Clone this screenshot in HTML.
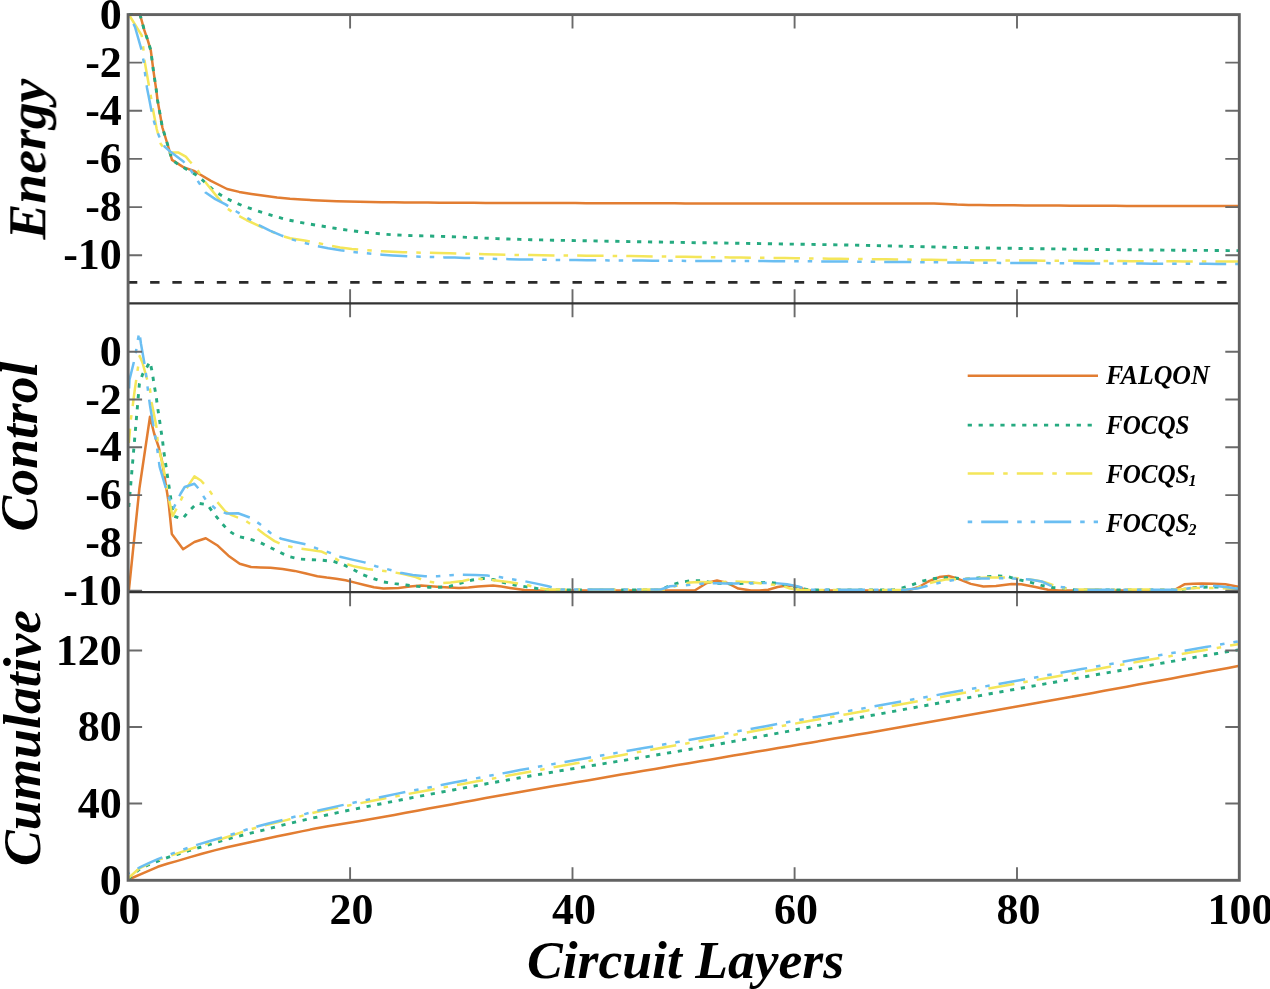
<!DOCTYPE html>
<html lang="en">
<head>
<meta charset="utf-8">
<title>Energy, Control and Cumulative vs Circuit Layers</title>
<style>
html,body{margin:0;padding:0;background:#fff;}
body{width:1270px;height:989px;overflow:hidden;}
svg{display:block;}
</style>
</head>
<body>
<svg width="1270" height="989" viewBox="0 0 1270 989">
<defs><filter id="soft" x="0" y="0" width="100%" height="100%" filterUnits="userSpaceOnUse" primitiveUnits="userSpaceOnUse"><feGaussianBlur stdDeviation="0.45"/></filter></defs>
<rect width="1270" height="989" fill="#fff"/>
<g filter="url(#soft)">
<g fill="none" stroke-linejoin="round" stroke-linecap="butt">
<path d="M128.8 14.5 L140.0 14.5 L144.3 30.2 L147.8 40.3 L150.8 50.4 L153.4 70.7 L156.4 90.9 L157.5 100.0 L162.4 127.5 L168.8 148.5 L172.0 159.9 L183.3 167.1 L194.7 171.2 L210.9 180.9 L227.1 189.0 L239.2 191.9 L251.4 193.9 L264.3 195.8 L277.1 197.5 L290.0 198.7 L301.7 199.5 L313.4 200.2 L325.0 200.8 L336.7 201.2 L348.0 201.5 L359.4 201.8 L370.7 202.0 L382.1 202.2 L393.4 202.3 L404.9 202.4 L416.4 202.5 L427.9 202.6 L439.4 202.7 L450.9 202.7 L462.5 202.8 L474.0 202.8 L485.5 202.9 L497.0 202.9 L508.5 203.0 L520.0 203.0 L531.0 203.0 L542.1 203.1 L553.1 203.1 L564.1 203.1 L575.2 203.1 L586.2 203.2 L597.2 203.2 L608.3 203.2 L619.3 203.2 L630.3 203.3 L641.4 203.3 L652.4 203.3 L663.4 203.3 L674.5 203.3 L685.5 203.4 L696.6 203.4 L707.6 203.4 L718.6 203.4 L729.7 203.4 L740.7 203.4 L751.7 203.5 L762.8 203.5 L773.8 203.5 L784.8 203.5 L795.9 203.5 L806.9 203.5 L817.9 203.5 L829.0 203.5 L840.0 203.5 L851.8 203.5 L863.5 203.5 L875.2 203.5 L887.0 203.5 L898.8 203.5 L910.5 203.5 L922.2 203.5 L934.0 203.5 L945.5 203.9 L957.1 204.6 L968.6 205.0 L979.9 205.1 L991.2 205.2 L1002.5 205.3 L1013.8 205.3 L1025.0 205.4 L1036.3 205.5 L1047.6 205.6 L1058.9 205.6 L1070.2 205.7 L1081.5 205.7 L1092.8 205.8 L1104.0 205.8 L1115.3 205.8 L1126.6 205.9 L1137.9 205.9 L1149.2 205.9 L1160.5 205.9 L1171.8 206.0 L1183.1 206.0 L1194.3 206.0 L1205.6 206.0 L1216.9 206.0 L1228.2 206.0 L1239.5 206.0" stroke="#E27D30" stroke-width="2.5"/>
<path d="M128.8 14.5 L140.0 14.5 L144.3 30.2 L147.8 40.3 L150.8 50.4 L153.4 70.7 L156.4 90.9 L157.5 100.0 L162.4 127.5 L168.8 148.5 L172.0 159.9 L178.5 164.7 L189.9 171.2 L198.0 176.0 L214.0 190.6 L223.8 196.9 L233.6 202.0 L244.1 206.3 L254.6 210.0 L265.1 213.4 L275.6 216.5 L287.0 219.7 L297.3 221.8 L307.5 223.7 L317.8 225.4 L329.1 227.3 L340.5 229.1 L351.8 230.7 L362.2 232.0 L372.6 233.1 L383.0 234.1 L393.4 234.8 L404.7 235.3 L416.0 235.7 L427.4 236.0 L438.7 236.3 L450.0 236.7 L461.7 237.1 L473.3 237.6 L485.0 238.1 L496.7 238.6 L508.3 239.0 L520.0 239.4 L531.1 239.7 L542.2 239.9 L553.3 240.2 L564.4 240.4 L575.6 240.6 L586.7 240.8 L597.8 241.0 L608.9 241.2 L620.0 241.4 L631.0 241.6 L642.0 241.8 L653.0 242.0 L664.0 242.1 L675.0 242.3 L686.0 242.5 L697.0 242.7 L708.0 242.8 L719.0 243.0 L730.0 243.1 L741.0 243.3 L752.0 243.5 L763.0 243.6 L774.0 243.8 L785.0 244.0 L796.0 244.2 L807.0 244.3 L818.0 244.5 L829.0 244.7 L840.0 244.9 L851.4 245.1 L862.9 245.3 L874.3 245.6 L885.7 245.8 L897.1 246.1 L908.6 246.4 L920.0 246.6 L931.4 246.9 L942.9 247.1 L954.3 247.4 L965.7 247.6 L977.1 247.8 L988.6 248.0 L1000.0 248.2 L1010.9 248.3 L1021.8 248.5 L1032.7 248.6 L1043.5 248.8 L1054.4 248.9 L1065.3 249.1 L1076.2 249.2 L1087.1 249.3 L1098.0 249.5 L1108.9 249.6 L1119.8 249.7 L1130.6 249.8 L1141.5 249.9 L1152.4 250.0 L1163.3 250.1 L1174.2 250.2 L1185.1 250.3 L1196.0 250.4 L1206.8 250.4 L1217.7 250.5 L1228.6 250.6 L1239.5 250.6" stroke="#25AA80" stroke-width="2.9" stroke-dasharray="4.2 6.7"/>
<path d="M128.8 14.5 L141.7 35.3 L143.3 48.0 L144.3 59.5 L148.8 84.8 L150.8 96.0 L152.7 108.0 L156.7 129.0 L160.7 143.7 L165.0 150.0 L170.5 152.6 L178.5 152.6 L185.8 156.6 L189.9 161.5 L197.2 169.6 L204.4 180.9 L217.4 197.1 L227.1 208.4 L236.8 214.9 L246.5 220.0 L256.2 224.6 L269.1 230.6 L282.1 235.9 L290.0 238.3 L304.6 240.5 L316.4 242.7 L328.2 245.2 L340.0 247.4 L351.8 249.0 L362.0 249.9 L372.2 250.6 L382.5 251.3 L392.7 251.8 L402.9 252.2 L414.7 252.5 L426.4 252.8 L438.2 253.0 L450.0 253.3 L461.7 253.6 L473.3 253.9 L485.0 254.2 L496.7 254.5 L508.3 254.8 L520.0 255.0 L531.1 255.1 L542.2 255.3 L553.3 255.4 L564.4 255.5 L575.6 255.6 L586.7 255.7 L597.8 255.8 L608.9 255.9 L620.0 256.0 L631.0 256.1 L642.0 256.3 L653.0 256.4 L664.0 256.5 L675.0 256.7 L686.0 256.8 L697.0 257.0 L708.0 257.1 L719.0 257.2 L730.0 257.4 L741.0 257.5 L752.0 257.7 L763.0 257.8 L774.0 258.0 L785.0 258.1 L796.0 258.3 L807.0 258.4 L818.0 258.5 L829.0 258.7 L840.0 258.8 L851.4 258.9 L862.9 259.1 L874.3 259.2 L885.7 259.3 L897.1 259.4 L908.6 259.6 L920.0 259.7 L931.4 259.8 L942.9 259.9 L954.3 260.0 L965.7 260.1 L977.1 260.2 L988.6 260.3 L1000.0 260.4 L1010.9 260.5 L1021.8 260.5 L1032.7 260.6 L1043.5 260.7 L1054.4 260.7 L1065.3 260.8 L1076.2 260.9 L1087.1 260.9 L1098.0 261.0 L1108.9 261.0 L1119.8 261.1 L1130.6 261.2 L1141.5 261.2 L1152.4 261.3 L1163.3 261.3 L1174.2 261.3 L1185.1 261.4 L1196.0 261.4 L1206.8 261.4 L1217.7 261.5 L1228.6 261.5 L1239.5 261.5" stroke="#F4E65A" stroke-width="2.5" stroke-dasharray="26.4 9.1 4.5 9.1" stroke-dashoffset="0"/>
<path d="M128.8 14.5 L135.0 27.0 L141.7 50.4 L143.8 62.6 L145.3 75.7 L147.0 87.9 L149.4 100.0 L151.3 110.0 L154.3 122.7 L159.1 136.4 L164.8 146.9 L170.5 151.8 L183.4 161.5 L191.5 171.2 L198.8 182.5 L205.2 192.2 L215.3 199.1 L225.5 204.4 L236.8 211.7 L248.9 218.9 L259.4 225.4 L269.9 230.6 L280.5 235.1 L291.0 239.2 L303.4 242.7 L315.8 245.8 L328.1 248.3 L340.5 250.3 L350.9 251.6 L361.3 252.8 L371.7 253.8 L382.1 254.7 L392.5 255.4 L402.9 256.0 L413.2 256.4 L423.6 256.8 L433.9 257.1 L444.3 257.4 L454.6 257.6 L465.0 257.9 L476.0 258.2 L487.0 258.6 L498.0 258.9 L509.0 259.2 L520.0 259.4 L531.1 259.6 L542.2 259.7 L553.3 259.9 L564.4 260.0 L575.6 260.1 L586.7 260.2 L597.8 260.3 L608.9 260.4 L620.0 260.5 L631.0 260.6 L642.0 260.6 L653.0 260.7 L664.0 260.8 L675.0 260.8 L686.0 260.9 L697.0 260.9 L708.0 260.9 L719.0 261.0 L730.0 261.0 L741.0 261.1 L752.0 261.1 L763.0 261.1 L774.0 261.2 L785.0 261.2 L796.0 261.3 L807.0 261.3 L818.0 261.4 L829.0 261.4 L840.0 261.5 L851.4 261.6 L862.9 261.7 L874.3 261.8 L885.7 261.9 L897.1 262.0 L908.6 262.1 L920.0 262.2 L931.4 262.3 L942.9 262.4 L954.3 262.5 L965.7 262.6 L977.1 262.7 L988.6 262.8 L1000.0 262.9 L1010.9 263.0 L1021.8 263.0 L1032.7 263.1 L1043.5 263.1 L1054.4 263.2 L1065.3 263.3 L1076.2 263.3 L1087.1 263.4 L1098.0 263.4 L1108.9 263.5 L1119.8 263.5 L1130.6 263.6 L1141.5 263.6 L1152.4 263.7 L1163.3 263.7 L1174.2 263.7 L1185.1 263.8 L1196.0 263.8 L1206.8 263.8 L1217.7 263.9 L1228.6 263.9 L1239.5 263.9" stroke="#6ABEF2" stroke-width="2.5" stroke-dasharray="27 9 4.5 9 4.5 9" stroke-dashoffset="52.5"/>
<path d="M128.8 591.0 L139.4 488.5 L150.0 416.8 L154.0 433.0 L158.8 447.5 L162.0 461.0 L168.5 501.5 L171.8 533.9 L183.1 549.2 L194.4 542.0 L205.8 538.2 L217.1 545.2 L228.4 555.7 L239.7 563.8 L251.1 567.0 L260.8 567.4 L270.5 567.8 L282.6 569.0 L294.6 570.9 L306.0 573.5 L317.3 576.2 L326.7 577.6 L336.2 578.8 L345.6 580.3 L355.1 582.6 L364.5 585.0 L373.9 587.3 L383.4 588.5 L398.5 587.9 L409.9 586.6 L421.2 585.6 L430.6 586.2 L440.1 587.0 L449.6 587.6 L459.0 587.9 L468.4 587.4 L477.9 586.6 L493.0 585.6 L501.5 586.5 L510.0 587.9 L524.6 590.0 L540.0 590.5 L551.0 590.5 L562.1 590.5 L573.1 590.5 L584.2 590.5 L595.2 590.5 L606.3 590.5 L617.4 590.5 L628.4 590.5 L639.5 590.5 L650.5 590.5 L661.6 590.5 L672.6 590.5 L683.7 590.5 L694.7 590.5 L706.8 583.0 L717.0 580.5 L727.2 583.0 L738.3 588.6 L750.9 590.6 L759.5 590.4 L768.2 589.7 L777.6 587.0 L787.0 585.4 L795.0 585.9 L802.8 588.6 L810.7 590.6 L821.5 590.6 L832.3 590.6 L843.1 590.6 L853.9 590.6 L864.6 590.6 L875.4 590.6 L886.2 590.5 L897.0 590.5 L907.8 590.5 L918.8 587.0 L928.3 581.5 L939.3 577.1 L948.7 576.0 L958.2 578.8 L970.8 583.9 L983.4 586.5 L996.0 585.9 L1011.7 583.9 L1021.2 584.3 L1035.4 587.0 L1048.0 589.7 L1059.0 590.6 L1070.4 590.6 L1081.9 590.6 L1093.3 590.6 L1104.8 590.6 L1116.2 590.6 L1127.6 590.6 L1139.1 590.6 L1150.5 590.5 L1162.0 590.5 L1173.4 590.5 L1184.4 584.3 L1193.1 583.7 L1201.7 583.5 L1213.6 583.7 L1225.4 584.3 L1239.5 587.0" stroke="#E27D30" stroke-width="2.5"/>
<path d="M128.8 507.0 L139.4 383.6 L142.7 374.0 L150.0 361.8 L152.4 373.0 L154.0 384.4 L156.0 395.0 L157.5 406.8 L159.2 417.6 L160.8 429.0 L162.4 439.4 L163.7 450.8 L165.3 461.3 L166.9 472.4 L168.5 482.9 L170.2 494.2 L171.8 506.3 L173.4 516.0 L182.3 519.0 L189.6 510.4 L197.3 503.1 L207.4 504.7 L213.9 513.6 L221.1 522.5 L228.4 530.6 L237.3 536.3 L248.6 538.7 L259.2 542.0 L268.9 546.8 L278.6 551.7 L288.0 556.3 L299.3 559.0 L310.1 559.6 L321.0 560.1 L333.3 561.4 L343.7 564.8 L353.2 569.6 L362.6 574.7 L373.0 578.4 L383.4 581.9 L394.8 583.6 L406.1 585.0 L417.4 586.4 L428.8 587.3 L439.2 587.3 L449.6 586.4 L460.9 583.2 L472.3 580.0 L482.7 578.4 L493.0 579.5 L503.8 582.5 L515.0 585.0 L526.5 586.9 L537.8 588.6 L549.0 590.0 L560.2 590.0 L571.3 590.0 L582.5 590.0 L593.7 590.0 L604.9 590.0 L616.0 590.0 L627.2 590.0 L638.4 590.0 L649.5 590.0 L660.7 590.0 L670.0 585.4 L679.6 582.5 L691.0 580.7 L702.0 580.7 L713.0 582.8 L724.9 583.9 L735.1 583.9 L746.1 583.0 L758.0 582.8 L769.0 582.3 L780.8 583.9 L795.0 587.0 L809.0 590.0 L819.6 590.0 L830.1 590.0 L840.7 590.0 L851.3 590.0 L861.9 590.0 L872.5 590.0 L883.0 590.0 L893.6 590.0 L900.0 588.6 L911.0 585.4 L921.2 581.5 L932.2 578.7 L943.2 577.6 L954.3 578.0 L965.3 579.1 L976.3 578.3 L987.3 576.8 L998.3 576.0 L1008.6 576.8 L1019.6 579.9 L1030.6 582.3 L1041.7 585.4 L1052.7 587.5 L1064.5 588.3 L1075.0 590.0 L1086.7 590.0 L1098.3 590.0 L1110.0 590.0 L1121.7 590.0 L1133.3 590.0 L1145.0 590.0 L1156.7 590.0 L1168.3 590.0 L1180.0 590.0 L1190.0 588.0 L1200.0 587.3 L1210.0 587.0 L1219.8 587.2 L1229.7 587.9 L1239.5 589.0" stroke="#25AA80" stroke-width="2.9" stroke-dasharray="4.2 6.7"/>
<path d="M128.8 443.0 L131.0 418.4 L132.6 406.8 L134.2 394.0 L137.5 370.7 L139.7 356.0 L142.7 363.4 L146.7 378.0 L150.0 389.3 L151.6 402.2 L156.4 426.5 L158.0 445.0 L163.7 469.0 L168.0 495.0 L172.6 516.0 L179.9 502.3 L185.5 490.2 L189.6 483.7 L194.4 476.4 L200.9 480.5 L208.2 488.5 L215.5 499.9 L225.2 511.2 L231.7 515.2 L244.6 520.1 L254.3 526.6 L264.4 534.2 L274.5 541.1 L284.2 545.4 L296.5 548.2 L308.8 549.7 L321.0 551.4 L332.4 556.7 L342.8 563.0 L355.1 566.6 L367.4 569.0 L378.7 570.5 L391.0 571.8 L403.3 574.0 L415.6 577.1 L426.5 581.3 L438.2 583.2 L450.5 582.5 L462.8 580.9 L475.1 578.4 L485.5 579.4 L497.8 580.7 L510.0 582.2 L524.6 584.4 L536.0 587.5 L547.3 589.5 L558.0 589.5 L568.6 589.5 L579.3 589.5 L589.9 589.5 L600.6 589.5 L611.2 589.5 L621.9 589.5 L632.5 589.5 L643.2 589.5 L653.8 589.5 L664.5 589.5 L673.0 587.1 L681.5 583.9 L690.0 582.6 L698.5 582.0 L711.5 582.3 L723.2 581.9 L735.0 581.5 L750.9 582.3 L765.0 583.9 L780.8 585.4 L790.2 588.6 L799.7 590.0 L810.8 590.0 L822.0 590.0 L833.1 590.0 L844.3 590.0 L855.4 590.0 L866.6 590.0 L877.7 590.0 L888.9 590.0 L900.0 590.0 L908.6 589.3 L917.2 587.8 L926.7 583.9 L936.1 581.5 L945.6 579.6 L958.0 579.1 L972.4 578.3 L988.1 577.6 L996.8 577.6 L1005.4 577.6 L1018.0 578.3 L1026.7 579.1 L1035.4 580.2 L1044.8 582.3 L1059.0 587.0 L1070.0 589.5 L1081.0 589.5 L1092.0 589.5 L1103.0 589.5 L1114.0 589.5 L1125.0 589.5 L1136.0 589.5 L1147.0 589.5 L1158.0 589.5 L1169.0 589.5 L1180.0 589.5 L1195.0 588.0 L1206.1 588.0 L1217.2 588.1 L1228.4 588.4 L1239.5 589.0" stroke="#F4E65A" stroke-width="2.5" stroke-dasharray="26.4 9.1 4.5 9.1" stroke-dashoffset="12"/>
<path d="M128.8 395.0 L129.5 379.6 L135.4 356.0 L137.0 344.0 L139.4 332.0 L141.0 344.0 L145.0 366.6 L146.7 379.6 L148.3 393.3 L150.0 405.5 L154.0 429.7 L156.0 441.0 L158.0 454.6 L159.6 466.7 L166.9 491.8 L170.2 500.7 L173.2 508.8 L180.7 493.5 L184.7 487.0 L194.4 483.7 L198.5 488.5 L205.8 499.9 L215.5 508.8 L226.8 513.6 L238.1 513.3 L250.3 517.7 L260.0 524.1 L270.5 533.0 L281.3 538.8 L293.6 541.7 L305.9 544.4 L316.3 548.2 L329.5 552.6 L340.0 556.7 L352.2 559.6 L364.5 562.4 L375.9 566.2 L389.1 569.6 L400.4 572.8 L412.7 575.1 L425.0 576.2 L437.3 576.2 L450.5 575.2 L462.8 574.7 L475.1 575.0 L487.4 575.6 L499.7 577.1 L512.3 579.3 L524.6 581.2 L536.4 583.6 L548.2 586.3 L560.5 589.5 L571.6 589.5 L582.8 589.5 L593.9 589.5 L605.0 589.5 L616.2 589.5 L627.3 589.5 L638.4 589.5 L649.6 589.5 L660.7 589.5 L670.0 586.3 L683.4 585.4 L696.6 584.4 L708.0 583.1 L716.9 583.3 L725.7 583.5 L736.7 583.4 L747.7 583.1 L758.7 583.0 L774.5 583.0 L787.0 584.3 L798.1 586.5 L809.1 589.7 L819.8 589.7 L830.4 589.7 L841.1 589.7 L851.7 589.7 L862.4 589.7 L873.0 589.7 L883.7 589.7 L894.3 589.7 L905.0 589.7 L917.2 588.6 L931.4 584.6 L945.6 581.5 L956.6 579.6 L967.6 578.8 L980.2 578.5 L992.8 578.4 L1005.4 578.3 L1018.0 578.7 L1029.8 579.6 L1041.7 581.5 L1050.0 585.4 L1058.5 586.7 L1066.9 587.8 L1075.0 589.7 L1086.7 589.7 L1098.3 589.7 L1110.0 589.7 L1121.7 589.7 L1133.3 589.7 L1145.0 589.7 L1156.7 589.7 L1168.3 589.7 L1180.0 589.7 L1193.9 587.5 L1209.6 585.4 L1225.4 587.0 L1239.5 589.0" stroke="#6ABEF2" stroke-width="2.5" stroke-dasharray="27 9 4.5 9 4.5 9" stroke-dashoffset="56.5"/>
<path d="M128.5 879.5 L142.7 873.4 L157.8 866.8 L167.2 863.8 L176.7 861.1 L189.3 857.4 L201.9 853.8 L214.5 850.4 L227.1 847.3 L239.7 844.5 L252.3 841.7 L264.9 839.0 L277.5 836.3 L290.1 833.7 L302.7 831.1 L315.3 828.6 L327.9 826.2 L338.6 824.4 L349.3 822.7 L360.0 820.9 L371.4 818.9 L382.9 816.9 L394.3 814.9 L405.7 812.8 L417.1 810.7 L428.6 808.6 L440.0 806.5 L451.4 804.4 L462.9 802.3 L474.3 800.2 L485.7 798.1 L497.1 796.1 L508.6 794.0 L520.0 792.0 L531.2 790.0 L542.5 788.1 L553.8 786.1 L565.0 784.2 L576.2 782.3 L587.5 780.4 L598.8 778.4 L610.0 776.5 L621.2 774.6 L632.5 772.7 L643.8 770.8 L655.0 768.9 L666.2 767.0 L677.5 765.1 L688.8 763.2 L700.0 761.3 L711.2 759.4 L722.4 757.5 L733.5 755.6 L744.7 753.7 L755.9 751.8 L767.1 750.0 L778.2 748.1 L789.4 746.2 L800.6 744.3 L811.8 742.4 L822.9 740.5 L834.1 738.6 L845.3 736.7 L856.5 734.8 L867.6 732.9 L878.8 730.9 L890.0 729.0 L901.3 727.0 L912.5 725.1 L923.8 723.1 L935.1 721.1 L946.4 719.1 L957.6 717.1 L968.9 715.1 L980.2 713.1 L991.5 711.1 L1002.7 709.1 L1014.0 707.1 L1025.3 705.1 L1036.6 703.0 L1047.8 701.0 L1059.1 699.0 L1070.4 697.0 L1081.7 694.9 L1092.9 692.9 L1104.2 690.8 L1115.5 688.8 L1126.8 686.7 L1138.0 684.6 L1149.3 682.6 L1160.6 680.5 L1171.9 678.4 L1183.1 676.3 L1194.4 674.2 L1205.7 672.1 L1217.0 670.0 L1228.2 667.9 L1239.5 665.8" stroke="#E27D30" stroke-width="2.5"/>
<path d="M128.5 879.0 L138.9 869.6 L148.4 864.8 L157.8 861.1 L167.2 857.6 L176.7 854.5 L189.0 850.7 L201.3 847.0 L212.0 843.7 L222.7 840.5 L233.4 837.5 L244.1 834.8 L254.9 832.2 L265.6 829.6 L276.3 826.8 L287.0 824.0 L297.7 821.4 L308.4 819.0 L319.1 816.7 L329.8 814.4 L341.1 811.9 L352.5 809.5 L363.7 807.2 L374.8 805.0 L386.0 802.8 L397.2 800.6 L408.3 798.4 L419.5 796.3 L430.7 794.1 L441.8 792.0 L453.0 790.0 L464.2 787.9 L475.3 785.9 L486.5 783.8 L497.7 781.8 L508.8 779.8 L520.0 777.8 L531.2 775.8 L542.5 773.9 L553.8 771.9 L565.0 770.0 L576.2 768.2 L587.5 766.3 L598.8 764.5 L610.0 762.6 L621.2 760.8 L632.5 758.9 L643.8 757.1 L655.0 755.2 L666.2 753.3 L677.5 751.4 L688.8 749.5 L700.0 747.5 L711.2 745.5 L722.4 743.5 L733.5 741.4 L744.7 739.4 L755.9 737.3 L767.1 735.2 L778.2 733.1 L789.4 731.0 L800.6 728.8 L811.8 726.7 L822.9 724.6 L834.1 722.4 L845.3 720.3 L856.5 718.2 L867.6 716.1 L878.8 714.1 L890.0 712.0 L901.3 709.9 L912.5 707.9 L923.8 705.8 L935.1 703.8 L946.4 701.7 L957.6 699.7 L968.9 697.6 L980.2 695.6 L991.5 693.5 L1002.7 691.5 L1014.0 689.5 L1025.3 687.4 L1036.6 685.4 L1047.8 683.4 L1059.1 681.4 L1070.4 679.4 L1081.7 677.4 L1092.9 675.3 L1104.2 673.3 L1115.5 671.3 L1126.8 669.3 L1138.0 667.3 L1149.3 665.4 L1160.6 663.4 L1171.9 661.4 L1183.1 659.4 L1194.4 657.4 L1205.7 655.5 L1217.0 653.5 L1228.2 651.6 L1239.5 649.6" stroke="#25AA80" stroke-width="2.9" stroke-dasharray="4.2 6.7"/>
<path d="M128.5 878.0 L138.9 868.7 L151.5 862.5 L164.1 857.9 L176.7 853.6 L186.1 850.4 L195.6 847.3 L205.7 844.0 L215.8 840.8 L225.9 837.5 L236.0 834.1 L246.0 830.8 L256.1 827.7 L266.2 825.0 L276.3 822.6 L286.4 820.1 L296.5 817.4 L306.5 814.6 L316.6 812.0 L327.3 809.7 L338.0 807.5 L348.7 805.4 L360.1 803.2 L371.5 800.9 L383.0 798.8 L394.4 796.6 L405.8 794.4 L417.2 792.3 L428.6 790.2 L440.1 788.1 L451.5 786.0 L462.9 783.9 L474.3 781.8 L485.7 779.8 L497.2 777.7 L508.6 775.6 L520.0 773.5 L531.2 771.4 L542.5 769.4 L553.8 767.3 L565.0 765.3 L576.2 763.3 L587.5 761.3 L598.8 759.2 L610.0 757.2 L621.2 755.2 L632.5 753.2 L643.8 751.1 L655.0 749.1 L666.2 747.1 L677.5 745.1 L688.8 743.0 L700.0 741.0 L711.2 739.0 L722.4 736.9 L733.5 734.9 L744.7 732.8 L755.9 730.8 L767.1 728.8 L778.2 726.7 L789.4 724.7 L800.6 722.6 L811.8 720.6 L822.9 718.5 L834.1 716.5 L845.3 714.4 L856.5 712.4 L867.6 710.4 L878.8 708.3 L890.0 706.3 L901.3 704.3 L912.5 702.2 L923.8 700.2 L935.1 698.2 L946.4 696.1 L957.6 694.1 L968.9 692.1 L980.2 690.0 L991.5 688.0 L1002.7 686.0 L1014.0 684.0 L1025.3 681.9 L1036.6 679.9 L1047.8 677.9 L1059.1 675.9 L1070.4 673.9 L1081.7 671.9 L1092.9 669.9 L1104.2 667.8 L1115.5 665.8 L1126.8 663.8 L1138.0 661.8 L1149.3 659.8 L1160.6 657.8 L1171.9 655.8 L1183.1 653.8 L1194.4 651.8 L1205.7 649.9 L1217.0 647.9 L1228.2 645.9 L1239.5 643.9" stroke="#F4E65A" stroke-width="2.5" stroke-dasharray="26.4 9.1 4.5 9.1" stroke-dashoffset="0"/>
<path d="M128.5 873.4 L140.8 866.8 L149.3 862.8 L157.8 859.2 L168.2 855.1 L178.6 851.2 L189.0 847.5 L199.4 844.1 L210.7 840.7 L222.0 837.5 L234.0 833.7 L246.0 829.8 L258.0 826.2 L269.4 823.3 L280.7 820.5 L292.7 817.3 L304.6 814.1 L316.6 811.0 L328.9 808.1 L341.2 805.4 L354.4 802.5 L365.4 800.2 L376.5 797.9 L387.5 795.7 L398.6 793.4 L409.6 791.2 L420.6 789.0 L431.7 786.9 L442.7 784.7 L453.8 782.6 L464.8 780.5 L475.8 778.4 L486.9 776.3 L497.9 774.2 L509.0 772.2 L520.0 770.1 L531.2 768.0 L542.5 766.0 L553.8 763.9 L565.0 761.9 L576.2 759.9 L587.5 757.9 L598.8 755.9 L610.0 754.0 L621.2 752.0 L632.5 750.0 L643.8 748.1 L655.0 746.1 L666.2 744.1 L677.5 742.1 L688.8 740.1 L700.0 738.1 L711.2 736.1 L722.4 734.1 L733.5 732.0 L744.7 730.0 L755.9 728.0 L767.1 725.9 L778.2 723.9 L789.4 721.8 L800.6 719.8 L811.8 717.7 L822.9 715.7 L834.1 713.7 L845.3 711.6 L856.5 709.6 L867.6 707.5 L878.8 705.5 L890.0 703.5 L901.3 701.5 L912.5 699.4 L923.8 697.4 L935.1 695.4 L946.4 693.3 L957.6 691.3 L968.9 689.3 L980.2 687.3 L991.5 685.2 L1002.7 683.2 L1014.0 681.2 L1025.3 679.2 L1036.6 677.2 L1047.8 675.1 L1059.1 673.1 L1070.4 671.1 L1081.7 669.1 L1092.9 667.1 L1104.2 665.1 L1115.5 663.1 L1126.8 661.1 L1138.0 659.1 L1149.3 657.1 L1160.6 655.1 L1171.9 653.1 L1183.1 651.1 L1194.4 649.1 L1205.7 647.1 L1217.0 645.1 L1228.2 643.1 L1239.5 641.1" stroke="#6ABEF2" stroke-width="2.5" stroke-dasharray="27 9 4.5 9 4.5 9" stroke-dashoffset="52.6"/>
<path d="M127.9 282.4 H1239.3" stroke="#2b2b2b" stroke-width="2.7" stroke-dasharray="9.4 12.83"/>
</g>
<path d="M350.1 14.6 v14 M350.1 289.3 v28 M350.1 578.2 v28 M350.1 867.3 v13 M572.5 14.6 v14 M572.5 289.3 v28 M572.5 578.2 v28 M572.5 867.3 v13 M794.6 14.6 v14 M794.6 289.3 v28 M794.6 578.2 v28 M794.6 867.3 v13 M1017.0 14.6 v14 M1017.0 289.3 v28 M1017.0 578.2 v28 M1017.0 867.3 v13 M128.1 62.6 h14 M1239.3 62.6 h-14 M128.1 110.8 h14 M1239.3 110.8 h-14 M128.1 158.9 h14 M1239.3 158.9 h-14 M128.1 207.1 h14 M1239.3 207.1 h-14 M128.1 255.2 h14 M1239.3 255.2 h-14 M128.1 351.7 h14 M1239.3 351.7 h-14 M128.1 399.5 h14 M1239.3 399.5 h-14 M128.1 447.3 h14 M1239.3 447.3 h-14 M128.1 495.1 h14 M1239.3 495.1 h-14 M128.1 542.9 h14 M1239.3 542.9 h-14 M128.1 590.7 h14 M1239.3 590.7 h-14 M128.1 803.5 h14 M1239.3 803.5 h-14 M128.1 727.0 h14 M1239.3 727.0 h-14 M128.1 650.5 h14 M1239.3 650.5 h-14" stroke="#6a6a6a" stroke-width="1.9" fill="none"/>
<g fill="none">
<path d="M128.1 303.3 H1239.3 M128.1 592.2 H1239.3" stroke="#303030" stroke-width="2.3"/>
<rect x="128.1" y="14.6" width="1111.2" height="865.7" stroke="#626262" stroke-width="2.9"/>
</g>
<g fill="none">
<path d="M967.7 375.8 H1098" stroke="#E27D30" stroke-width="2.6"/>
<path d="M967.7 425.1 H1098" stroke="#25AA80" stroke-width="2.8" stroke-dasharray="4.2 6.7"/>
<path d="M967.7 473.5 H1098" stroke="#F4E65A" stroke-width="2.6" stroke-dasharray="26.4 9.1 4.5 9.1"/>
<path d="M967.7 521.9 H1098" stroke="#6ABEF2" stroke-width="2.6" stroke-dasharray="27 9 4.5 9 4.5 9" stroke-dashoffset="49.5"/>
</g>
<g font-family="'Liberation Serif', 'Times New Roman', serif" font-weight="bold" fill="#000">
<g font-size="44" text-anchor="end">
<text x="121.8" y="28.5">0</text>
<text x="121.8" y="76.7">-2</text>
<text x="121.8" y="124.8">-4</text>
<text x="121.8" y="172.9">-6</text>
<text x="121.8" y="221.1">-8</text>
<text x="121.8" y="269.2">-10</text>
<text x="121.8" y="365.7">0</text>
<text x="121.8" y="413.5">-2</text>
<text x="121.8" y="461.3">-4</text>
<text x="121.8" y="509.1">-6</text>
<text x="121.8" y="556.9">-8</text>
<text x="121.8" y="604.7">-10</text>
<text x="121.8" y="895.2">0</text>
<text x="121.8" y="817.5">40</text>
<text x="121.8" y="741.0">80</text>
<text x="121.8" y="664.5">120</text>
</g>
<g font-size="44" text-anchor="middle">
<text x="129.4" y="923.8">0</text>
<text x="351.6" y="923.8">20</text>
<text x="573.9" y="923.8">40</text>
<text x="796.1" y="923.8">60</text>
<text x="1018.4" y="923.8">80</text>
<text x="1240.6" y="923.8">100</text>
</g>
<g font-size="53.6" font-style="italic" text-anchor="middle">
<text x="685.5" y="977.7">Circuit Layers</text>
<text transform="translate(45.3 159) rotate(-90)">Energy</text>
<text transform="translate(36.6 446.5) rotate(-90)">Control</text>
<text transform="translate(39.8 738) rotate(-90)">Cumulative</text>
</g>
<g font-size="27" font-style="italic">
<text x="1106" y="384.3" textLength="103.6" lengthAdjust="spacingAndGlyphs">FALQON</text>
<text x="1106" y="433.5" textLength="83.4" lengthAdjust="spacingAndGlyphs">FOCQS</text>
<text x="1106" y="482.9" textLength="83.4" lengthAdjust="spacingAndGlyphs">FOCQS</text>
<text x="1106" y="531.8" textLength="83.4" lengthAdjust="spacingAndGlyphs">FOCQS</text>
<text x="1188.6" y="486.4" font-size="16">1</text>
<text x="1188.6" y="534.9" font-size="16">2</text>
</g>
</g>
</g>
</svg>
</body>
</html>
